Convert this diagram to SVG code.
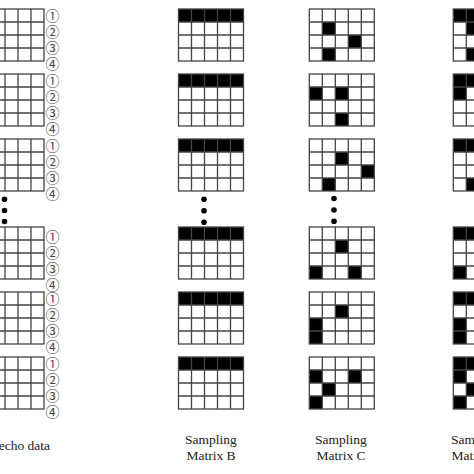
<svg xmlns="http://www.w3.org/2000/svg" xmlns:xlink="http://www.w3.org/1999/xlink" width="474" height="474" viewBox="0 0 474 474">
<style>
.g{fill:none;stroke:#444;stroke-width:1.3}
.k{fill:#000}
.n{font-family:"Noto Sans CJK JP","DejaVu Sans",sans-serif;font-size:14px;fill:#444;text-anchor:middle;dominant-baseline:central}
.lbl{font-family:"Liberation Serif","Times New Roman",serif;font-size:13.5px;fill:#222}
.dot{fill:#000}
</style>
<defs>
<g id="grid" class="g"><rect x="0" y="0" width="65" height="52"/><path d="M13 0V52M26 0V52M39 0V52M52 0V52M0 13H65M0 26H65M0 39H65"/></g>
<g id="nums"><text class="n" x="0" y="5.5">①</text><text class="n" x="0" y="21.5">②</text><text class="n" x="0" y="37.5">③</text><text class="n" x="0" y="53.5">④</text></g>
</defs>
<rect width="474" height="474" fill="#fff"/>

<!-- Echo data column -->
<g id="echo1" transform="translate(-21,9)"><use xlink:href="#grid"/><use xlink:href="#nums" x="73.5"/></g>
<g id="echo2" transform="translate(-21,74)"><use xlink:href="#grid"/><use xlink:href="#nums" x="73.5"/></g>
<g id="echo3" transform="translate(-21,139)"><use xlink:href="#grid"/><use xlink:href="#nums" x="73.5"/></g>
<g id="echo4" transform="translate(-21,227)"><use xlink:href="#grid"/><use xlink:href="#nums" x="73.5" y="3"/></g>
<g id="echo5" transform="translate(-21,292)"><use xlink:href="#grid"/><use xlink:href="#nums" x="73.5"/></g>
<g id="echo6" transform="translate(-21,357)"><use xlink:href="#grid"/><use xlink:href="#nums" x="73.5"/></g>
<g id="echo-dots"><circle class="dot" cx="4.5" cy="199.3" r="2.8"/><circle class="dot" cx="4.5" cy="210.5" r="2.8"/><circle class="dot" cx="4.5" cy="221.5" r="2.8"/></g>
<text id="echo-label" class="lbl" x="50" y="450" text-anchor="end">echo data</text>

<!-- Sampling Matrix B -->
<g id="B1" transform="translate(178.5,9)"><rect class="k" x="0" y="0" width="65" height="13"/><use xlink:href="#grid"/></g>
<g id="B2" transform="translate(178.5,74)"><rect class="k" x="0" y="0" width="65" height="13"/><use xlink:href="#grid"/></g>
<g id="B3" transform="translate(178.5,139)"><rect class="k" x="0" y="0" width="65" height="13"/><use xlink:href="#grid"/></g>
<g id="B4" transform="translate(178.5,227)"><rect class="k" x="0" y="0" width="65" height="13"/><use xlink:href="#grid"/></g>
<g id="B5" transform="translate(178.5,292)"><rect class="k" x="0" y="0" width="65" height="13"/><use xlink:href="#grid"/></g>
<g id="B6" transform="translate(178.5,357)"><rect class="k" x="0" y="0" width="65" height="13"/><use xlink:href="#grid"/></g>
<g id="B-dots"><circle class="dot" cx="204" cy="199.3" r="2.8"/><circle class="dot" cx="204" cy="210.7" r="2.8"/><circle class="dot" cx="204" cy="222.2" r="2.8"/></g>
<text id="B-label" class="lbl" text-anchor="middle"><tspan x="211" y="444">Sampling</tspan><tspan x="211" y="460">Matrix B</tspan></text>

<!-- Sampling Matrix C -->
<g id="C1" transform="translate(309.3,9)"><rect class="k" x="13" y="13" width="13" height="13"/><rect class="k" x="39" y="26" width="13" height="13"/><rect class="k" x="13" y="39" width="13" height="13"/><use xlink:href="#grid"/></g>
<g id="C2" transform="translate(309.3,74)"><rect class="k" x="0" y="13" width="13" height="13"/><rect class="k" x="26" y="13" width="13" height="13"/><rect class="k" x="26" y="39" width="13" height="13"/><use xlink:href="#grid"/></g>
<g id="C3" transform="translate(309.3,139)"><rect class="k" x="26" y="13" width="13" height="13"/><rect class="k" x="52" y="26" width="13" height="13"/><rect class="k" x="13" y="39" width="13" height="13"/><use xlink:href="#grid"/></g>
<g id="C4" transform="translate(309.3,227)"><rect class="k" x="26" y="13" width="13" height="13"/><rect class="k" x="0" y="39" width="13" height="13"/><rect class="k" x="39" y="39" width="13" height="13"/><use xlink:href="#grid"/></g>
<g id="C5" transform="translate(309.3,292)"><rect class="k" x="26" y="13" width="13" height="13"/><rect class="k" x="0" y="26" width="13" height="26"/><use xlink:href="#grid"/></g>
<g id="C6" transform="translate(309.3,357)"><rect class="k" x="0" y="13" width="13" height="13"/><rect class="k" x="39" y="13" width="13" height="13"/><rect class="k" x="13" y="26" width="13" height="13"/><rect class="k" x="0" y="39" width="13" height="13"/><use xlink:href="#grid"/></g>
<g id="C-dots"><circle class="dot" cx="334" cy="198.5" r="2.8"/><circle class="dot" cx="334" cy="210" r="2.8"/><circle class="dot" cx="334" cy="221.3" r="2.8"/></g>
<text id="C-label" class="lbl" text-anchor="middle"><tspan x="341" y="444">Sampling</tspan><tspan x="341" y="460">Matrix C</tspan></text>

<!-- Sampling Matrix D (cut off at the right edge, as in the reference) -->
<g id="D1" transform="translate(453.3,9)"><rect class="k" x="0" y="0" width="26" height="13"/><rect class="k" x="13" y="13" width="13" height="13"/><rect class="k" x="13" y="39" width="13" height="13"/><use xlink:href="#grid"/></g>
<g id="D2" transform="translate(453.3,74)"><rect class="k" x="0" y="0" width="26" height="13"/><rect class="k" x="0" y="13" width="13" height="13"/><use xlink:href="#grid"/></g>
<g id="D3" transform="translate(453.3,139)"><rect class="k" x="0" y="0" width="26" height="13"/><rect class="k" x="13" y="39" width="13" height="13"/><use xlink:href="#grid"/></g>
<g id="D4" transform="translate(453.3,227)"><rect class="k" x="0" y="0" width="26" height="13"/><rect class="k" x="0" y="39" width="13" height="13"/><use xlink:href="#grid"/></g>
<g id="D5" transform="translate(453.3,292)"><rect class="k" x="0" y="0" width="26" height="13"/><rect class="k" x="0" y="26" width="13" height="26"/><use xlink:href="#grid"/></g>
<g id="D6" transform="translate(453.3,357)"><rect class="k" x="0" y="0" width="26" height="13"/><rect class="k" x="0" y="13" width="13" height="13"/><rect class="k" x="13" y="26" width="13" height="13"/><rect class="k" x="0" y="39" width="13" height="13"/><use xlink:href="#grid"/></g>
<text id="D-label" class="lbl"><tspan x="451" y="444">Sampling</tspan><tspan x="451.5" y="460">Matrix D</tspan></text>
</svg>
